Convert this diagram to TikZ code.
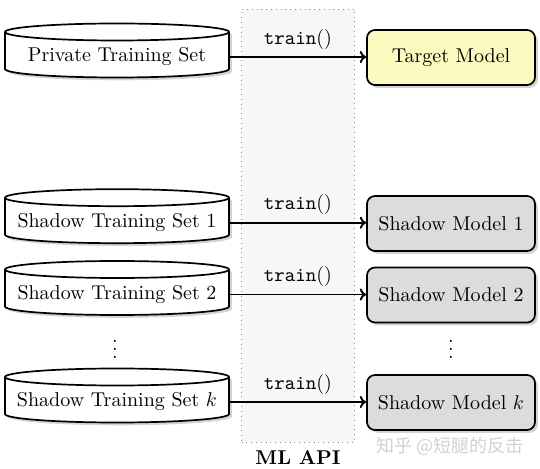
\documentclass[tikz,border=0pt]{standalone}
\usepackage{fontspec}
\newfontfamily\cjk{Noto Sans CJK SC}
\usetikzlibrary{shadows,arrows.meta}
\definecolor{tgtyellow}{RGB}{253,250,192}
\definecolor{shgray}{RGB}{220,220,220}
\definecolor{apibg}{RGB}{247,247,247}
\tikzset{
  softshadow/.style={drop shadow={shadow xshift=1.4pt, shadow yshift=-1.4pt, opacity=0.35}},
  cylbody/.style={draw, line width=0.85pt, fill=white, softshadow},
  cyltext/.style={minimum width=112pt, minimum height=21.5pt, inner sep=0pt},
  modelbox/.style={draw, rounded corners=4pt, line width=0.85pt, minimum width=84pt,
    minimum height=27.5pt, inner sep=0pt, softshadow},
  flow/.style={-{To[length=3.2pt,width=6pt]}, line width=0.95pt},
  apilabel/.style={inner sep=1pt, above=2.5pt},
}
\newcommand\drawdbcyl[1]{%
  \begin{scope}[shift={#1}]
    \path[cylbody] (-112,-25) -- (-112,12)
      arc[start angle=180,end angle=360,x radius=56pt,y radius=4.25pt]
      -- (112,-25)
      arc[start angle=0,end angle=180,x radius=56pt,y radius=4.25pt] -- cycle;
    \draw[line width=0.85pt] (-112,-25)
      arc[start angle=180,end angle=360,x radius=56pt,y radius=4.25pt];
  \end{scope}}
\begin{document}
\begin{tikzpicture}[x=0.5pt,y=-0.5pt]
\useasboundingbox (0,0) rectangle (540,469);
\node[draw=black!45, dotted, fill=apibg, minimum width=56.5pt, minimum height=216.5pt, inner sep=0pt] (api) at (298,225.5) {};
\node[font=\bfseries, anchor=north] (apilbl) at (298,443) {ML API};
\drawdbcyl{(117,57)}
\drawdbcyl{(117,222.7)}
\drawdbcyl{(117,294.5)}
\drawdbcyl{(117,402)}
\node[cyltext] (ps) at (117,57) {Private Training Set};
\node[cyltext] (s1) at (117,222.7) {Shadow Training Set 1};
\node[cyltext] (s2) at (117,294.5) {Shadow Training Set 2};
\node[cyltext] (sk) at (117,402) {Shadow Training Set $k$};
\node[modelbox, fill=tgtyellow] (tm) at (451,57.5) {Target Model};
\node[modelbox, fill=shgray] (m1) at (451,223.5) {Shadow Model 1};
\node[modelbox, fill=shgray] (m2) at (451,295) {Shadow Model 2};
\node[modelbox, fill=shgray] (mk) at (451,402.5) {Shadow Model $k$};
\node (d1) at (115,343) {$\vdots$};
\node (d2) at (451,343) {$\vdots$};
\draw[flow] (ps.east) -- node[apilabel] {\texttt{train}()} (ps.east -| tm.west);
\draw[flow] (s1.east) -- node[apilabel] {\texttt{train}()} (s1.east -| m1.west);
\draw[flow] (s2.east) -- node[apilabel] {\texttt{train}()} (s2.east -| m2.west);
\draw[flow] (sk.east) -- node[apilabel] {\texttt{train}()} (sk.east -| mk.west);
\node[text=black!18, font=\cjk\fontsize{9}{10}\selectfont] (wm) at (450,446) {知乎 @短腿的反击};
\end{tikzpicture}
\end{document}
